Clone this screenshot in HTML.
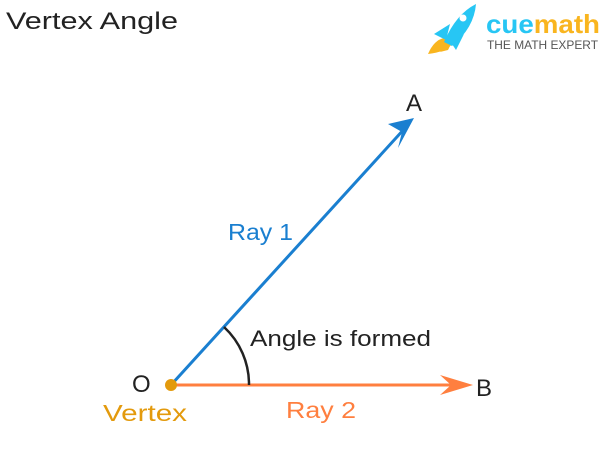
<!DOCTYPE html>
<html><head><style>
html,body{margin:0;padding:0;background:#fff;}
svg{display:block;}
text{font-family:"Liberation Sans",sans-serif;}
</style></head><body>
<svg width="610" height="459" viewBox="0 0 610 459" xmlns="http://www.w3.org/2000/svg">
<rect width="610" height="459" fill="#fff"/>
<text x="6" y="29" font-size="24" fill="#222" textLength="172" lengthAdjust="spacingAndGlyphs">Vertex Angle</text>
<g>
<path d="M452 42 L440 52 L448 50 Z" fill="#f9b51f"/>
<path d="M428 54 Q434 40 444 38 L452 44 Q446 52 428 54 Z" fill="#f9b51f"/>
<path d="M444 42 Q456 14 476 4 Q474 28 452 46 Z" fill="#27c6f4"/>
<path d="M434 34 L450 24 L446 40 Z" fill="#27c6f4"/>
<path d="M456 50 L464 34 L452 44 Z" fill="#27c6f4"/>
<circle cx="463" cy="18" r="3.5" fill="#fff"/>
<text x="486" y="33" font-size="26" font-weight="bold" fill="#27c6f4" textLength="114" lengthAdjust="spacingAndGlyphs">cue<tspan fill="#f9b51f">math</tspan></text>
<text x="487" y="49" font-size="12" fill="#555" textLength="111" lengthAdjust="spacingAndGlyphs">THE MATH EXPERT</text>
</g>
<line x1="171" y1="385" x2="406" y2="127" stroke="#1a7fd0" stroke-width="3"/>
<path d="M414 118 L398 148 L402 132 L388 124 Z" fill="#1a7fd0"/>
<line x1="171" y1="385" x2="462" y2="385" stroke="#ff7f3f" stroke-width="3"/>
<path d="M473 385 L440 375 L451 385 L440 395 Z" fill="#ff7f3f"/>
<path d="M224 327 A78 78 0 0 1 249 385" fill="none" stroke="#222" stroke-width="2.5"/>
<circle cx="171" cy="385" r="6" fill="#e39a0d"/>
<text x="406" y="111" font-size="24" fill="#222">A</text>
<text x="476" y="396" font-size="24" fill="#222">B</text>
<text x="132" y="392" font-size="24" fill="#222">O</text>
<text x="103" y="421" font-size="23" fill="#e39a0d" textLength="84" lengthAdjust="spacingAndGlyphs">Vertex</text>
<text x="286" y="418" font-size="23" fill="#ff7f3f" textLength="70" lengthAdjust="spacingAndGlyphs">Ray 2</text>
<text x="228" y="240" font-size="23" fill="#1a7fd0" textLength="65" lengthAdjust="spacingAndGlyphs">Ray 1</text>
<text x="250" y="346" font-size="22" fill="#222" textLength="181" lengthAdjust="spacingAndGlyphs">Angle is formed</text>
</svg>
</body></html>
